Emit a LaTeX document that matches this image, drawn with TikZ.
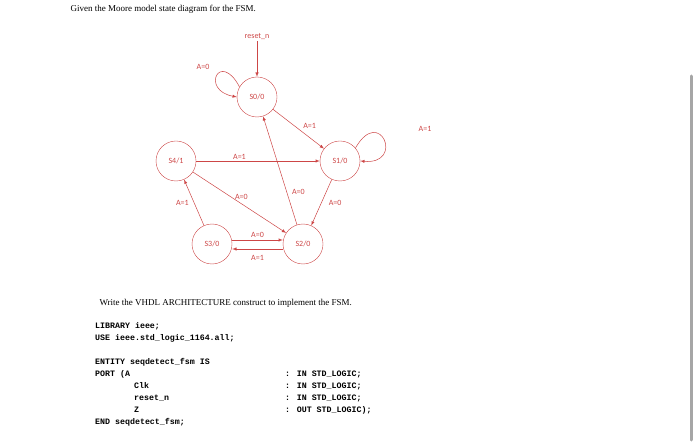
\documentclass[tikz,border=0pt]{standalone}
\usepackage{fontspec}
\setmainfont{Liberation Serif}
\newfontfamily\lbl{Carlito}
\newfontfamily\code{Liberation Mono}
\definecolor{fsm}{RGB}{205,70,70}
\begin{document}
\begin{tikzpicture}[x=1pt,y=-1pt,
  st/.style={circle,draw=fsm,minimum size=40pt,inner sep=0pt,font=\lbl\fontsize{8}{9}\selectfont,text=fsm},
  lab/.style={font=\lbl\fontsize{8}{9}\selectfont,text=fsm,inner sep=1pt},
  tr/.style={draw=fsm,->,>=latex,line width=0.5pt},
  cl/.style={font=\code\bfseries\fontsize{8.3}{9}\selectfont,anchor=west,inner sep=0pt}]
\useasboundingbox (0,0) rectangle (700,443);
\node[anchor=west,font=\fontsize{9}{10}\selectfont] (title) at (67,9) {Given the Moore model state diagram for the FSM.};
\node[st] (s0) at (257,97) {S0/0};
\node[st] (s1) at (340,161) {S1/0};
\node[st] (s4) at (176,161) {S4/1};
\node[st] (s3) at (212,244) {S3/0};
\node[st] (s2) at (303,244) {S2/0};
\node[lab] (rn) at (257,37) {reset\_n};
\draw[tr] (rn) -- (s0);
\draw[tr] (s0.150) .. controls (220,50) and (200,90) .. (s0.180);
\node[lab] at (203,67) {A=0};
\draw[tr] (s0) -- (s1) node[lab,pos=0.55,above right=1pt] {A=1};
\draw[tr] (s1.40) .. controls (380,105) and (405,165) .. (s1.0);
\node[lab] at (425,129) {A=1};
\draw[tr] (s4) -- (s1) node[lab,pos=0.35,above] {A=1};
\draw[tr] (s4) -- (s2) node[lab,pos=0.45,above right=-1pt] {A=0};
\draw[tr] (s2) -- (s0) node[lab,pos=0.3,right=4pt] {A=0};
\draw[tr] (s1) -- (s2) node[lab,pos=0.5,right=6pt] {A=0};
\draw[tr] (s3) -- (s4) node[lab,pos=0.5,left=4pt] {A=1};
\draw[tr] ([yshift=4]s3.east) -- ([yshift=4]s2.west) node[lab,midway,above=1pt] {A=0};
\draw[tr] ([yshift=-5]s2.west) -- ([yshift=-5]s3.east) node[lab,midway,below=5pt] {A=1};
\node[anchor=west,font=\fontsize{9}{10}\selectfont] (q) at (96,303) {Write the VHDL ARCHITECTURE construct to implement the FSM.};
\node[cl] (c1) at (95,326) {LIBRARY ieee;};
\node[cl] (c2) at (95,338) {USE ieee.std\_logic\_1164.all;};
\node[cl] (c3) at (95,362) {ENTITY seqdetect\_fsm IS};
\node[cl] (c4) at (95,374) {PORT (A};
\node[cl] (c5) at (134,386) {Clk};
\node[cl] (c6) at (134,398) {reset\_n};
\node[cl] (c7) at (134,410) {Z};
\node[cl] (c8) at (95,422) {END seqdetect\_fsm;};
\node[cl] (p1) at (285,374) {: IN STD\_LOGIC;};
\node[cl] (p2) at (285,386) {: IN STD\_LOGIC;};
\node[cl] (p3) at (285,398) {: IN STD\_LOGIC;};
\node[cl] (p4) at (285,410) {: OUT STD\_LOGIC);};
\draw[gray!70,line width=3pt,line cap=round] (691,76) -- (691,440);
\end{tikzpicture}
\end{document}
